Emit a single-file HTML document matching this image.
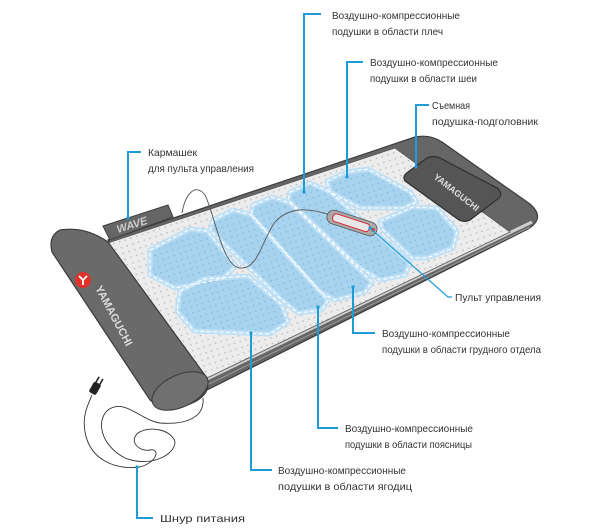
<!DOCTYPE html>
<html><head><meta charset="utf-8"><style>
html,body{margin:0;padding:0;background:#fff;}
svg{display:block;}
text{font-family:"Liberation Sans",sans-serif;font-size:10.5px;fill:#333;}
</style></head><body>
<svg width="600" height="530" viewBox="0 0 600 530" xmlns="http://www.w3.org/2000/svg">
<defs>
<pattern id="dots" width="6" height="6" patternUnits="userSpaceOnUse" patternTransform="rotate(-18)">
<rect width="6" height="6" fill="#ececec"/><circle cx="3" cy="3" r="0.8" fill="#b5b5b5"/></pattern>
<pattern id="bdots" width="6" height="6" patternUnits="userSpaceOnUse" patternTransform="rotate(-18)">
<rect width="6" height="6" fill="#a8d3ef"/><circle cx="3" cy="3" r="0.8" fill="#7fb5d8"/></pattern>
</defs>

<path d="M108,240 L415,137 Q430,134 442,142 L530,204 Q546,218 528,229 L207,390 Z" fill="#666" stroke="#3d3d3d" stroke-width="1.2"/>
<path d="M205,380 L532,222" stroke="#cfcfcf" stroke-width="3" fill="none"/>
<path d="M205,386 L530,227" stroke="#9a9a9a" stroke-width="1" fill="none"/>
<path d="M108,243 L395,148 L510,232 L207,378 Z" fill="url(#dots)" stroke="#555" stroke-width="0.8"/>

<g fill="url(#bdots)" stroke="#bfe0f5" stroke-width="5" stroke-linejoin="round">
<path id="p1" d="M150,250 L190,229 L207,231 L236,266 L222,279 L175,288 L150,275 Z"/>
<path id="p2" d="M180,291 L204,279 L248,276 L281,304 L288,322 L270,334 L194,331 L177,311 Z"/>
<path id="p3" d="M213,220 L233,210 L252,215 L328,300 L322,310 L298,313 L282,300 L210,230 Z"/>
<path id="p4" d="M253,205 L272,197 L290,203 L372,282 L365,292 L335,300 L320,292 L251,215 Z"/>
<path id="p5" d="M290,192 L310,183 L330,192 L410,263 L405,275 L380,280 L360,268 L288,200 Z"/>
<path id="p6" d="M327,181 L347,172 L368,169 L410,192 L417,202 L403,208 L360,208 L330,192 Z"/>
<path id="p7" d="M380,221 L413,207 L437,208 L457,231 L453,248 L427,258 L412,258 L382,229 Z"/>
</g>
<g fill="none" stroke="#fff" stroke-width="1.1" stroke-dasharray="4,2.5">
<use href="#p1"/><use href="#p2"/><use href="#p3"/><use href="#p4"/><use href="#p5"/><use href="#p6"/><use href="#p7"/>
</g>

<path d="M408,172 L427,158 Q433,155 440,158 L497,188 Q503,193 499,198 L470,220 Q465,223 459,220 L405,181 Q402,176 408,172 Z" fill="#555" stroke="#2e2e2e" stroke-width="1.2"/>
<text x="0" y="0" transform="translate(433,178) rotate(38)" style="font-size:9px;font-weight:bold;fill:#ddd;">YAMAGUCHI</text>

<path d="M103,226 L168,205 L173,217 L110,240 Z" fill="#666" stroke="#3d3d3d" stroke-width="1"/>
<text x="0" y="0" transform="translate(118,233) rotate(-17)" style="font-size:11px;font-style:italic;font-weight:bold;fill:#ccc;">WAVE</text>

<path d="M60,230 Q85,226 108,242 L207,378 Q212,395 190,404 Q165,412 150,400 L52,252 Q48,236 60,230 Z" fill="#6a6a6a" stroke="#3a3a3a" stroke-width="1.2"/>
<ellipse cx="180" cy="391" rx="30" ry="16" transform="rotate(-25 180 391)" fill="#707070" stroke="#3a3a3a" stroke-width="1"/>
<circle cx="83" cy="280" r="8" fill="#e0322c"/>
<path d="M79,276 L83,280 L87,276 M83,280 L83,285" stroke="#fff" stroke-width="1.8" fill="none"/>
<text x="0" y="0" transform="translate(95,288) rotate(62)" style="font-size:11px;font-weight:bold;fill:#ddd;">YAMAGUCHI</text>

<path d="M330,215 C310,208 290,206 275,222 C262,240 258,270 240,268 C222,266 215,215 205,195 C195,182 185,195 182,213" fill="none" stroke="#555" stroke-width="0.9"/>
<g transform="rotate(18 352 223)">
<rect x="326" y="216" width="52" height="14" rx="7" fill="#aaa" stroke="#555" stroke-width="0.8"/>
<rect x="332" y="219" width="38" height="8" rx="3" fill="#e8e8e8" stroke="#d23" stroke-width="1"/>
<circle cx="374" cy="223" r="1.8" fill="#d23"/>
</g>

<path d="M203,398 C205,418 185,425 160,423 C140,420 125,398 108,410 C96,420 100,445 125,458 C150,468 175,455 175,442 C172,430 150,425 138,433 C128,442 140,452 150,450 C160,448 158,462 140,467 C115,470 90,460 85,432 C82,415 88,405 92,395" fill="none" stroke="#333" stroke-width="0.9"/>
<g transform="rotate(30 94 390)">
<rect x="90" y="382" width="8" height="12" rx="2" fill="#222"/>
<rect x="91" y="376" width="1.6" height="6" fill="#222"/><rect x="95.4" y="376" width="1.6" height="6" fill="#222"/>
</g>

<g stroke="#1f9bd7" stroke-width="2" fill="none">
<path d="M321,14 L304,14 L304,192"/>
<path d="M363,62 L347,62 L347,177"/>
<path d="M429,105 L416,105 L416,167"/>
<path d="M141,152 L128,152 L128,218"/>
<path d="M370,228 L448,297 L452,297" stroke-width="1.2"/>
<path d="M353,287 L353,333 L375,333"/>
<path d="M318,307 L318,428 L338,428"/>
<path d="M251,333 L251,470 L272,470"/>
<path d="M137,467 L137,518 L153,518"/>
</g>
<g fill="#1f9bd7"><circle cx="304" cy="192" r="1.6"/><circle cx="347" cy="177" r="1.6"/><circle cx="416" cy="167" r="1.6"/><circle cx="128" cy="218" r="1.6"/><circle cx="353" cy="287" r="1.6"/><circle cx="318" cy="307" r="1.6"/><circle cx="251" cy="333" r="1.6"/><circle cx="137" cy="467" r="1.6"/><circle cx="370" cy="228" r="1.6"/></g>

<text x="332" y="19" textLength="128" lengthAdjust="spacingAndGlyphs">Воздушно-компрессионные</text>
<text x="332" y="35" textLength="111" lengthAdjust="spacingAndGlyphs">подушки в области плеч</text>
<text x="370" y="66" textLength="128" lengthAdjust="spacingAndGlyphs">Воздушно-компрессионные</text>
<text x="370" y="82" textLength="107" lengthAdjust="spacingAndGlyphs">подушки в области шеи</text>
<text x="432" y="109" textLength="38" lengthAdjust="spacingAndGlyphs">Съемная</text>
<text x="432" y="125" textLength="106" lengthAdjust="spacingAndGlyphs">подушка-подголовник</text>
<text x="148" y="156" textLength="49" lengthAdjust="spacingAndGlyphs">Кармашек</text>
<text x="148" y="172" textLength="106" lengthAdjust="spacingAndGlyphs">для пульта управления</text>
<text x="455" y="301" textLength="86" lengthAdjust="spacingAndGlyphs">Пульт управления</text>
<text x="382" y="337" textLength="128" lengthAdjust="spacingAndGlyphs">Воздушно-компрессионные</text>
<text x="382" y="353" textLength="159" lengthAdjust="spacingAndGlyphs">подушки в области грудного отдела</text>
<text x="345" y="432" textLength="128" lengthAdjust="spacingAndGlyphs">Воздушно-компрессионные</text>
<text x="345" y="448" textLength="127" lengthAdjust="spacingAndGlyphs">подушки в области поясницы</text>
<text x="278" y="474" textLength="128" lengthAdjust="spacingAndGlyphs">Воздушно-компрессионные</text>
<text x="278" y="490" textLength="134" lengthAdjust="spacingAndGlyphs">подушки в области ягодиц</text>
<text x="160" y="522" textLength="85" lengthAdjust="spacingAndGlyphs">Шнур питания</text>
</svg>
</body></html>
